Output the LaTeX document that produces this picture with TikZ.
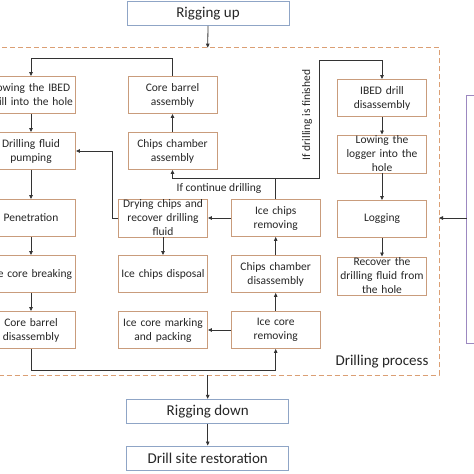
\documentclass[tikz,border=0pt]{standalone}
\usepackage{fontspec}
\setmainfont{Carlito}
\usetikzlibrary{arrows.meta,calc}
\definecolor{boxc}{HTML}{C99C7C}
\definecolor{bluec}{HTML}{8FA5C6}
\definecolor{dashc}{HTML}{DB9F74}
\definecolor{purc}{HTML}{9C88C0}
\definecolor{linec}{HTML}{333333}
\definecolor{txt}{HTML}{262626}
\begin{document}
\begin{tikzpicture}[x=1pt,y=-1pt,
  box/.style={draw=boxc, line width=0.9pt, minimum width=89pt, minimum height=37pt, text width=87pt, align=center, font=\fontsize{11.5}{14}\selectfont, inner sep=1pt, text=txt},
  bluebox/.style={draw=bluec, line width=0.9pt, minimum width=162pt, minimum height=24pt, inner sep=1pt, font=\fontsize{15}{17}\selectfont, text=txt},
  conn/.style={draw=linec, line width=0.8pt},
  arr/.style={conn, -{Triangle[length=4pt,width=3.5pt]}},
  lbl/.style={font=\fontsize{11.5}{14}\selectfont, text=txt, inner sep=0pt},
  biglbl/.style={font=\fontsize{15}{17}\selectfont, text=txt, inner sep=0pt},
]
\fill[white] (0,0) rectangle (474,474);
\useasboundingbox (0,0) rectangle (474,474);
\clip (0,0) rectangle (474,474);

% dashed frame and purple frame
\draw[dashc, line width=1pt, dash pattern=on 5pt off 3pt] (-10,47.7) rectangle (439,375);
\draw[purc, line width=0.9pt] (466.7,95) rectangle (495,343);
\coordinate (dtop) at (207.7,47.7);
\coordinate (dbot) at (207.7,375);
\coordinate (dright) at (439,218);
\coordinate (pleft) at (466.7,218);

% outer boxes
\node[bluebox] (rup) at (208,13.5) {Rigging up};
\node[bluebox] (rdown) at (207.7,411.3) {Rigging down};
\node[bluebox] (rest) at (207.7,458) {Drill site restoration};

% left column
\node[box] (lower) at (31,95) {Lowing the IBED\\drill into the hole};
\node[box] (pump) at (31,151) {Drilling fluid\\pumping};
\node[box] (pen) at (31,218) {Penetration};
\node[box] (brk) at (31,274) {Ice core breaking};
\node[box] (cbd) at (31,330) {Core barrel\\disassembly};

% middle column
\node[box] (cba) at (172.5,95) {Core barrel\\assembly};
\node[box] (cca) at (172.5,151) {Chips chamber\\assembly};
\node[box] (dry) at (163,218) {Drying chips and\\recover drilling\\fluid};
\node[box] (disp) at (163,274) {Ice chips disposal};
\node[box] (mark) at (163,330) {Ice core marking\\and packing};

% middle-right column
\node[box] (icr) at (275.7,218) {Ice chips\\removing};
\node[box] (ccd) at (275.7,274) {Chips chamber\\disassembly};
\node[box] (icrem) at (275.7,330) {Ice core\\removing};

% right column
\node[box] (ibdis) at (382,98) {IBED drill\\disassembly};
\node[box] (logger) at (382,154) {Lowing the\\logger into the\\hole};
\node[box] (logging) at (382,219) {Logging};
\node[box] (recover) at (382,276) {Recover the\\drilling fluid from\\the hole};

% labels
\node[lbl] (lcont) at (219,188) {If continue drilling};
\node[lbl, rotate=90] (lfin) at (307,115) {If drilling is finished};
\node[biglbl] (lproc) at (382,362) {Drilling process};

% connectors
\draw[arr] (rup.south) -- (dtop);
\draw[arr] (dbot) -- (rdown.north);
\draw[arr] (rdown.south) -- (rest.north);
\draw[arr] (pleft) -- (dright);

\draw[arr] (cba.north) -- ++(0,-18) -| (lower.north);
\draw[arr] (lower.south) -- (pump.north);
\draw[arr] (pump.south) -- (pen.north);
\draw[arr] (pen.south) -- (brk.north);
\draw[arr] (brk.south) -- (cbd.north);
\draw[arr] (cbd.south) -- ++(0,21) -| (icrem.south);
\draw[arr] (icrem.north) -- (ccd.south);
\draw[arr] (ccd.north) -- (icr.south);
\draw[arr] (icrem.west) -- (mark.east);
\draw[arr] (icr.west) -- (dry.east);
\draw[arr] (dry.south) -- (disp.north);
\draw[arr] (dry.west) -- ++(-6,0) |- (pump.east);
\draw[arr] (cca.north) -- (cba.south);

\coordinate (j) at ($(icr.north)+(0,-21)$);
\coordinate (k) at (319.7,60);
\draw[arr] (icr.north) -- (j) -| (cca.south);
\draw[arr] (j) -| (k) -| (ibdis.north);

\draw[arr] (ibdis.south) -- (logger.north);
\draw[arr] (logger.south) -- (logging.north);
\draw[arr] (logging.south) -- (recover.north);
\end{tikzpicture}
\end{document}
